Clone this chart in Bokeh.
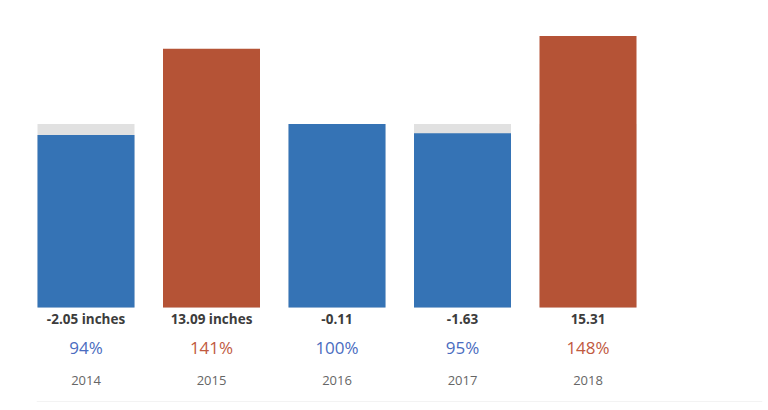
from bokeh.plotting import figure
from bokeh.models import ColumnDataSource, Span, Range1d
from bokeh.core.properties import value
from bokeh.embed import file_html
from bokeh.resources import INLINE

# Annual precipitation, percent of normal, and departure from normal
years = ["2014", "2015", "2016", "2017", "2018"]
percent_of_normal = [94, 141, 100, 95, 148]
departure = ["-2.05 inches", "13.09 inches", "-0.11", "-1.63", "15.31"]
normal = 100

BLUE = "#3573b5"
RED = "#b55336"
BLUE_TXT = "#4a6cc0"
RED_TXT = "#c15a3f"

W, H = 768, 410
left_pad, right_pad, bottom_pad = 36, 6, 9
slot_px = 125.5          # horizontal spacing between bars
first_center_px = 85.5   # centre of first bar from page left
base_px = 307            # baseline from page top
pct_px = 1.835           # pixels per percentage point

frame_w = W - left_pad - right_pad
frame_h = H - bottom_pad
x0 = (left_pad - first_center_px) / slot_px
x1 = x0 + frame_w / slot_px
y1 = base_px / pct_px
y0 = y1 - frame_h / pct_px

xs = list(range(len(years)))
colors = [RED if v > normal else BLUE for v in percent_of_normal]
txt_colors = [RED_TXT if v > normal else BLUE_TXT for v in percent_of_normal]
pct_labels = [f"{v}%" for v in percent_of_normal]

src = ColumnDataSource(dict(
    x=xs, top=percent_of_normal, normal=[normal] * len(xs), color=colors,
    txt_color=txt_colors, pct=pct_labels, dep=departure, year=years,
    zero=[0] * len(xs),
))

p = figure(width=W, height=H, output_backend="svg", toolbar_location=None,
           x_range=Range1d(x0, x1), y_range=Range1d(y0, y1),
           min_border_left=left_pad, min_border_right=right_pad,
           min_border_top=0, min_border_bottom=bottom_pad)
p.axis.visible = False
p.grid.visible = False
p.outline_line_color = None
p.background_fill_color = "white"
p.border_fill_color = "white"

bw = 97 / slot_px
p.vbar(x="x", top="normal", bottom=0, width=bw, source=src,
       fill_color="#e1e1e1", line_color=None)
p.vbar(x="x", top="top", bottom=0, width=bw, source=src,
       fill_color="color", line_color=None)

p.text(x="x", y="zero", text="dep", source=src, y_offset=11,
       text_align="center", text_baseline="middle",
       text_font=value("Open Sans"), text_font_style="bold",
       text_font_size="13.5px", text_color="#3c3c3c")
p.text(x="x", y="zero", text="pct", source=src, y_offset=40,
       text_align="center", text_baseline="middle",
       text_font=value("Open Sans"), text_font_size="17px",
       text_color="txt_color")
p.text(x="x", y="zero", text="year", source=src, y_offset=73,
       text_align="center", text_baseline="middle",
       text_font=value("Open Sans"), text_font_size="13px",
       text_color="#666666")

p.add_layout(Span(location=y0, dimension="width",
                  line_color="#e8e8e8", line_width=1))

open("out.html", "w").write(file_html(p, INLINE))
